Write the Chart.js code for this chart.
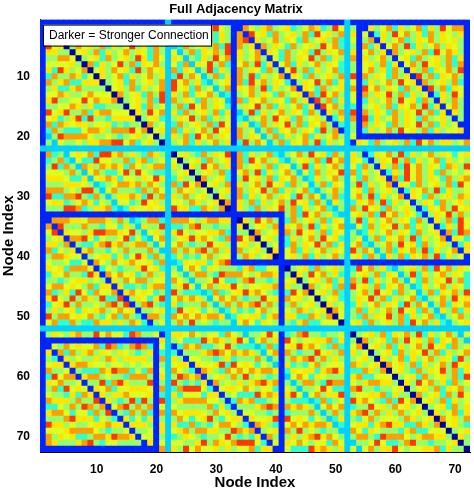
<!DOCTYPE html>
<html><head><meta charset="utf-8">
<script src="https://cdn.jsdelivr.net/npm/chart.js@4/dist/chart.umd.min.js"></script>
<style>html,body{margin:0;padding:0;background:#fff}#c{width:474px;height:492px}</style>
</head><body><div id="c"><canvas id="cv" width="474" height="492"></canvas></div>
<script>
const N = 72;
const tickLabels = [10,20,30,40,50,60,70];
// upper triangle noise levels (0 = darkest / strongest .. 9), row i covers columns i+1..72
const upperRows = [
"56453745648563465474564374658456346547456354657456346547645364756457",
"74864563745648573645734564785463754674563457634856473645736457364857",
"85645374658456374563485647364574856374564738564736457364857463746546",
"64758463745637485647356473645783645746537456473856473645734657465",
"47564736458463745637456473857463746537456485736457364574836457465",
"56473645746537485647365748364574653745638465736457463745647385764",
"45637456486375465743648573645746537465847364573645748563745647365",
"73645847365746537465847365748364573645746538475647364574856473",
"56475638475647365748364574653746584736457364857463745647365748",
"64573645746538475647365748364574653745647385746537465847365746",
"45637456473857463745647385746537465847364573645748563745647365",
"56473645748563745647365748364574653745647385746537465847365",
"74563748564736574836457465374564738574653746584736457364857",
"45647385746537465847365746537465847364573645748563745647",
"56374564738574653746584736457364857463745647365748364574",
"64857463745647365748364574653745647385746537465847365",
"45637465847364573645748563745647365748364574653745647",
"74563745647385746537465847365748364574653746584736457",
"56473645748563745647365746538475647364574856473645",
"45647385746537465847364573645748563745647365748364",
"64573645746538475647365748364574653745647385746",
"75647364574856374564736574836457465374564738574",
"56437465847364573645748563745647365748364574653",
"45637456473857463745647385746537465847364573645",
"64857463745647365748364574653745647385746537",
"45647365748364574653746584736457364857463745",
"74563748564736574836457465374564738574653746",
"56473645748563745647365748364574653745647385",
"45637465847364573645748563745647365748364",
"64573645746538475647365748364574653745647",
"75647364574856374564736574836457465374564",
"56437465847364573645748563745647365748",
"45637456473857463745647385746537465847",
"64857463745647365748364574653745647385",
"45647365748364574653746584736457364857",
"74563748564736574836457465374564738",
"56473645748563745647365748364574653",
"45637465847364573645748563745647365",
"64573645746538475647365748364574653",
"75647364574856374564736574836457",
"56437465847364573645748563745647",
"45637456473857463745647385746537",
"64857463745647365748364574653745",
"45647365748364574653746584736",
"74563748564736574836457465374",
"56473645748563745647365748364",
"45637465847364573645748563745",
"64573645746538475647365748364",
"75647364574856374564736574",
"56437465847364573645748563",
"45637456473857463745647385",
"64857463745647365748364",
"45647365748364574653746",
"74563748564736574836457",
"56473645748563745647365",
"45637465847364573645",
"64573645746538475647",
"75647364574856374564",
"56437465847364573",
"45637456473857463",
"64857463745647365",
"45647365748364",
"74563748564736",
"56473645748563",
"45637465847",
"64573645746",
"75647364574",
"56437465",
"45637456",
"64857",
"45647"
];
// structural lines: [row, colStart, colEnd, level] (mirrored)
const lineSegments = [
 [1,1,72,1],
 [33,1,41,1],[41,33,72,1],[20,54,72,1],
 [22,1,72,2],[52,1,72,2]
];
const colSegments = [
 [1,1,72,1],[33,1,41,1],[41,33,72,1],[54,1,20,1],[72,1,20,1],
 [22,1,72,2],[52,1,72,2]
];
const diagOffsets = [[18,2],[32,1],[53,1]];
const diagLevel = 0;

// build matrix
const M = [];
for (let i=0;i<N;i++){M.push(new Array(N).fill(5));}
for (let i=1;i<=N;i++){
  const s = upperRows[i-1] || "";
  for (let j=i+1;j<=N;j++){
    const ch = s[(j-i-1) % Math.max(s.length,1)];
    const v = ch ? +ch : 5;
    M[i-1][j-1]=v; M[j-1][i-1]=v;
  }
  M[i-1][i-1]=diagLevel;
}
for (const [off,lv] of diagOffsets){
  for (let i=1;i<=N;i++){ const j=i+off; if(j<=N){M[i-1][j-1]=lv;M[j-1][i-1]=lv;} }
}
for (const [r,a,b,lv] of lineSegments){ for(let c=a;c<=b;c++){M[r-1][c-1]=lv;M[c-1][r-1]=lv;} }
for (const [c,a,b,lv] of colSegments){ for(let r=a;r<=b;r++){M[r-1][c-1]=lv;M[c-1][r-1]=lv;} }

const levelT=[0.03,0.16,0.33,0.42,0.52,0.59,0.65,0.72,0.82,0.92];
function jet(t){
  const r=Math.min(1,Math.max(0,1.5-Math.abs(4*t-3)));
  const g=Math.min(1,Math.max(0,1.5-Math.abs(4*t-2)));
  const b=Math.min(1,Math.max(0,1.5-Math.abs(4*t-1)));
  return `rgb(${Math.round(r*255)},${Math.round(g*255)},${Math.round(b*255)})`;
}
const pts=[],cols=[];
for(let r=1;r<=N;r++)for(let c=1;c<=N;c++){pts.push({x:c,y:r});cols.push(jet(levelT[M[r-1][c-1]]));}

const legendBox={id:'lb',afterDatasetsDraw(ch){
  const ctx=ch.ctx,a=ch.chartArea;
  ctx.save();ctx.fillStyle='#fff';ctx.strokeStyle='#000';ctx.lineWidth=1;
  ctx.fillRect(a.left+3,a.top+5,168,21);ctx.strokeRect(a.left+3.5,a.top+5.5,168,21);
  ctx.fillStyle='#000';ctx.font='12px "Liberation Sans", Arial';ctx.textBaseline='middle';
  ctx.fillText('Darker = Stronger Connection',a.left+9,a.top+16);ctx.restore();
}};

new Chart(document.getElementById('cv'),{
  type:'scatter',
  data:{datasets:[{data:pts,backgroundColor:cols,borderWidth:0,pointStyle:'rect',
    pointRadius:(ctx)=>{const a=ctx.chart.chartArea;return a?(a.width/N+0.6)/1.4142:4;},
    pointHoverRadius:(ctx)=>{const a=ctx.chart.chartArea;return a?(a.width/N+0.6)/1.4142:4;}}]},
  options:{responsive:false,animation:false,events:[],
    layout:{padding:{right:2,left:0,top:0,bottom:0}},
    plugins:{legend:{display:false},tooltip:{enabled:false},
      title:{display:true,text:'Full Adjacency Matrix',color:'#000',font:{size:13,weight:'bold',family:'"Liberation Sans", Arial'},padding:{top:2,bottom:2}}},
    scales:{
      x:{type:'linear',min:0.5,max:72.5,afterBuildTicks:(s)=>{s.ticks=tickLabels.map(v=>({value:v}));},
        grid:{display:false,drawTicks:true},border:{color:'#000'},
        ticks:{color:'#000',font:{size:12,weight:'bold',family:'"Liberation Sans", Arial'},padding:2},
        title:{display:true,text:'Node Index',color:'#000',font:{size:15,weight:'bold',family:'"Liberation Sans", Arial'},padding:0},
        afterFit:(s)=>{s.height=40;}},
      y:{type:'linear',reverse:true,min:0.5,max:72.5,afterBuildTicks:(s)=>{s.ticks=tickLabels.map(v=>({value:v}));},
        grid:{display:false},border:{color:'#000'},
        ticks:{color:'#000',font:{size:12,weight:'bold',family:'"Liberation Sans", Arial'},padding:2},
        title:{display:true,text:'Node Index',color:'#000',font:{size:15,weight:'bold',family:'"Liberation Sans", Arial'},padding:0},
        afterFit:(s)=>{s.width=40;}}
    }},
  plugins:[legendBox]
});
</script></body></html>
